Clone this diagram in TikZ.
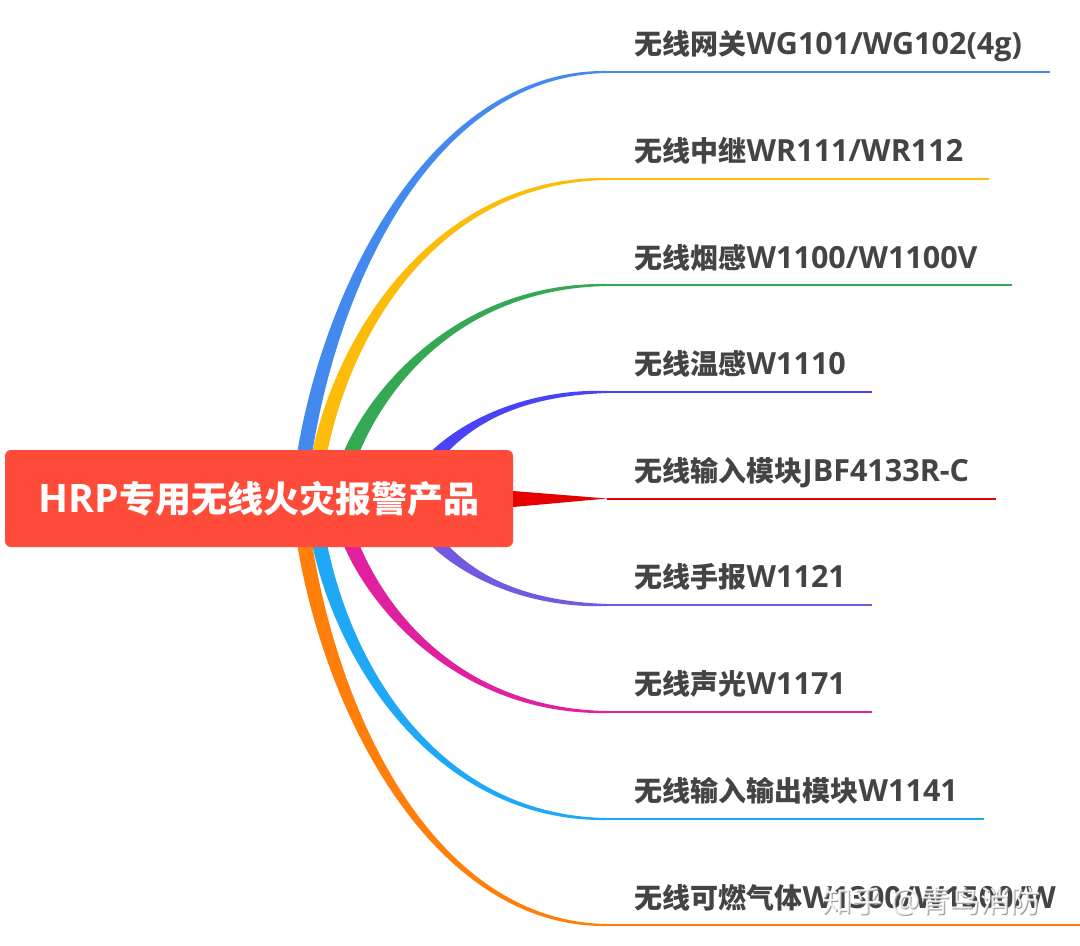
\documentclass[tikz,border=0pt]{standalone}
\usepackage{fontspec}
\setmainfont[Scale=1.09]{Open Sans}
\newfontfamily\cjk{Noto Sans CJK SC}
\newcommand\cj[1]{{\cjk #1}}
\usetikzlibrary{calc}
\definecolor{cblue}{HTML}{4489EE}
\definecolor{cyellow}{HTML}{FDBC0A}
\definecolor{cgreen}{HTML}{34A853}
\definecolor{cindigo}{HTML}{4A43F5}
\definecolor{cred}{HTML}{E60000}
\definecolor{cviolet}{HTML}{7358E0}
\definecolor{cmagenta}{HTML}{E0209F}
\definecolor{ccyan}{HTML}{1FA8F5}
\definecolor{corange}{HTML}{FF7F0A}
\definecolor{croot}{HTML}{FF4B3A}
\definecolor{ctext}{HTML}{444444}
% #1 colour, #2 start x, #3 half width at start, #4 half width at c1,
% #5 c1 x, #6 c1 height above centre, #7 c2 x, #8 end coordinate, #9 side (+1 upper, -1 lower)
\newcommand\brnch[9]{%
  \fill[#1] (#2-#3,{498.5-#9*47.5}) .. controls (#5-#4,{498.5-#9*#6}) and ($(#8)+(#7-607,{-#9*3.5})$) .. ($(#8)+(0,{-#9*1})$)
    -- ($(#8)+(0,{#9*1})$) .. controls ($(#8)+(#7-607,{#9*3.5})$) and (#5+#4,{498.5-#9*#6}) .. (#2+#3,{498.5-#9*47.5}) -- cycle;
}
\tikzset{
  x=1pt,y=-1pt,
  lbl/.style={font=\fontsize{28}{28}\selectfont\bfseries,text=ctext,anchor=base west,inner sep=0pt},
  uline/.style={line width=2pt},
  rootbox/.style={fill=croot,rounded corners=6pt,inner sep=0pt,minimum width=508pt,minimum height=97pt,text=white,font=\fontsize{36}{36}\selectfont\bfseries},
  wmtext/.style={font=\fontsize{30}{30}\selectfont,anchor=base west,inner sep=0pt}
}
\begin{document}
\begin{tikzpicture}
\useasboundingbox (0,0) rectangle (1080,946);
\fill[white] (0,0) rectangle (1080,946);
% end points of the branches and of the underlines
\coordinate (e1) at (607,72);   \coordinate (f1) at (1050,72);
\coordinate (e2) at (607,179);  \coordinate (f2) at (989,179);
\coordinate (e3) at (607,285);  \coordinate (f3) at (1012,285);
\coordinate (e4) at (607,392);  \coordinate (f4) at (872,392);
\coordinate (e5) at (607,498.5);\coordinate (f5) at (996,498.5);
\coordinate (e6) at (607,605);  \coordinate (f6) at (872,605);
\coordinate (e7) at (607,712);  \coordinate (f7) at (872,712);
\coordinate (e8) at (607,819);  \coordinate (f8) at (984,819);
\coordinate (e9) at (607,925);  \coordinate (f9) at (1080,925);
% tapered branches
\brnch{cblue}{305}{7.5}{7}{335}{228.5}{440}{e1}{1}
\brnch{cyellow}{320}{7.5}{7}{348}{178.5}{445}{e2}{1}
\brnch{cgreen}{352}{8}{7.5}{385}{123.5}{470}{e3}{1}
\brnch{cindigo}{440}{8.5}{7}{480}{86.5}{540}{e4}{1}
\brnch{cviolet}{440}{8.5}{7}{480}{86.5}{540}{e6}{-1}
\brnch{cmagenta}{352}{8}{7.5}{385}{123.5}{470}{e7}{-1}
\brnch{ccyan}{320}{7.5}{7}{348}{178.5}{445}{e8}{-1}
\brnch{corange}{305}{7.5}{7}{335}{228.5}{440}{e9}{-1}
\coordinate (w1) at (513,491);
\coordinate (w2) at (513,507);
\fill[cred] (w1) -- (e5) -- (w2) -- cycle;
% underlines
\draw[uline,cblue] (e1) -- (f1);
\draw[uline,cyellow] (e2) -- (f2);
\draw[uline,cgreen] (e3) -- (f3);
\draw[uline,cindigo] (e4) -- (f4);
\draw[uline,cred] (e5) -- (f5);
\draw[uline,cviolet] (e6) -- (f6);
\draw[uline,cmagenta] (e7) -- (f7);
\draw[uline,ccyan] (e8) -- (f8);
\draw[uline,corange] (e9) -- (f9);
% root
\node[rootbox] (root) at (259,498.5) {HRP\cj{专用无线火灾报警产品}};
% labels
\node[lbl] (l1) at (634.5,54) {\cj{无线网关}WG101/WG102(4g)};
\node[lbl] (l2) at (634.5,161) {\cj{无线中继}WR111/WR112};
\node[lbl] (l3) at (634.5,268) {\cj{无线烟感}W1100/W1100V};
\node[lbl] (l4) at (634.5,374) {\cj{无线温感}W1110};
\node[lbl] (l5) at (634.5,481) {\cj{无线输入模块}JBF4133R-C};
\node[lbl] (l6) at (634.5,587) {\cj{无线手报}W1121};
\node[lbl] (l7) at (634.5,694) {\cj{无线声光}W1171};
\node[lbl] (l8) at (634.5,801) {\cj{无线输入输出模块}W1141};
\node[lbl] (l9) at (634.5,908) {\cj{无线可燃气体}W1300/W1500/W};
\node[wmtext,text=gray!80] (wms) at (823,913) {\cj{知乎} @\cj{青鸟消防}};
\node[wmtext,text=white,opacity=.85] (wm) at (822,912) {\cj{知乎} @\cj{青鸟消防}};
\end{tikzpicture}
\end{document}
